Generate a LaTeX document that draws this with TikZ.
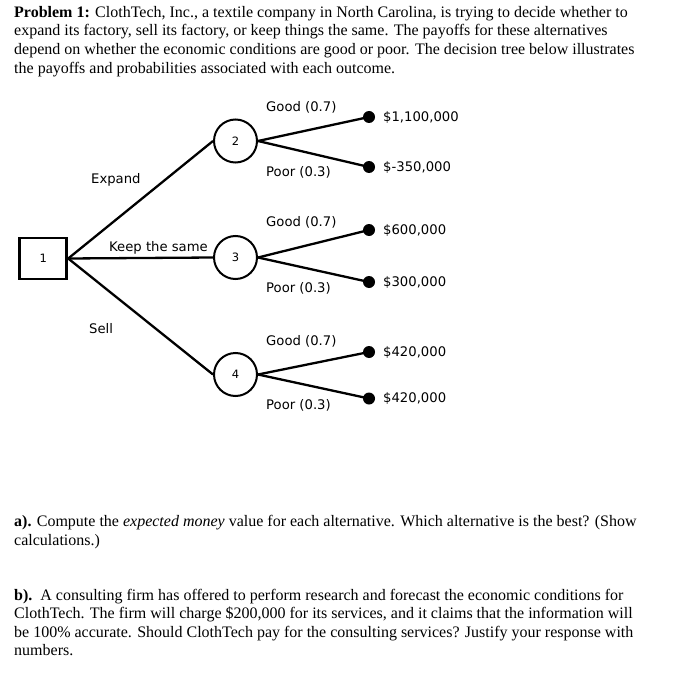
\documentclass[tikz,border=0pt]{standalone}
\usepackage{fontspec}
\setmainfont{Liberation Serif}
\newfontfamily\treefont{DejaVu Sans}
\begin{document}
\begin{tikzpicture}[x=1pt,y=-1pt,
  txt/.style={anchor=base west,inner sep=0pt,font=\fontsize{16}{18}\selectfont},
  lbl/.style={inner sep=0pt,font=\treefont\fontsize{13.2}{15}\selectfont},
  dec/.style={draw,line width=2.8pt,minimum width=47pt,minimum height=41pt,inner sep=0pt,font=\treefont\fontsize{11.5}{12}\selectfont},
  chance/.style={draw,circle,line width=2pt,minimum size=43pt,inner sep=0pt,font=\treefont\fontsize{11.5}{12}\selectfont},
  leaf/.style={circle,fill=black,minimum size=12pt,inner sep=0pt},
  br/.style={line width=2.3pt}]
\useasboundingbox[fill=white] (0,0) rectangle (672,695);

% header text
\node[txt] (t1) at (14,17.5) {\textbf{Problem 1:} ClothTech, Inc., a textile company in North Carolina, is trying to decide whether to};
\node[txt] (t2) at (14,36) {expand its factory, sell its factory, or keep things the same. The payoffs for these alternatives};
\node[txt] (t3) at (14,55) {depend on whether the economic conditions are good or poor. The decision tree below illustrates};
\node[txt] (t4) at (14,73.5) {the payoffs and probabilities associated with each outcome.};

% tree nodes
\node[dec] (n1) at (43.3,258.5) {1};
\node[chance] (n2) at (235.5,141) {2};
\node[chance] (n3) at (235.5,257.5) {3};
\node[chance] (n4) at (235.5,374.5) {4};

\node[leaf] (l1) at (369,117) {};
\node[leaf] (l2) at (369,167) {};
\node[leaf] (l3) at (369,230) {};
\node[leaf] (l4) at (369,282) {};
\node[leaf] (l5) at (369,352) {};
\node[leaf] (l6) at (369,398.5) {};

\draw[br] (n1.east) -- (n2.west);
\draw[br] (n1.east) -- (n3.west);
\draw[br] (n1.east) -- (n4.west);
\draw[br] (n2.east) -- (l1.center);
\draw[br] (n2.east) -- (l2.center);
\draw[br] (n3.east) -- (l3.center);
\draw[br] (n3.east) -- (l4.center);
\draw[br] (n4.east) -- (l5.center);
\draw[br] (n4.east) -- (l6.center);

% labels
\node[lbl,anchor=west] (e1) at (91,180) {Expand};
\node[lbl,anchor=west] (e2) at (109,248) {Keep the same};
\node[lbl,anchor=west] (e3) at (89,329) {Sell};

\node[lbl,anchor=west] (g1) at (266,107) {Good (0.7)};
\node[lbl,anchor=west] (p1) at (266,172) {Poor (0.3)};
\node[lbl,anchor=west] (g2) at (266,222) {Good (0.7)};
\node[lbl,anchor=west] (p2) at (266,288) {Poor (0.3)};
\node[lbl,anchor=west] (g3) at (266,341) {Good (0.7)};
\node[lbl,anchor=west] (p3) at (266,405) {Poor (0.3)};

\node[lbl,anchor=west] (v1) at (383,117) {\$1,100,000};
\node[lbl,anchor=west] (v2) at (383,167) {\$-350,000};
\node[lbl,anchor=west] (v3) at (383,230) {\$600,000};
\node[lbl,anchor=west] (v4) at (383,282) {\$300,000};
\node[lbl,anchor=west] (v5) at (383,352) {\$420,000};
\node[lbl,anchor=west] (v6) at (383,398.5) {\$420,000};

% questions
\node[txt] (a1) at (14,526.5) {\textbf{a).} Compute the \textit{expected money} value for each alternative. Which alternative is the best? (Show};
\node[txt] (a2) at (14,545) {calculations.)};
\node[txt] (b1) at (14,600) {\textbf{b).}\ \ A consulting firm has offered to perform research and forecast the economic conditions for};
\node[txt] (b2) at (14,618.5) {ClothTech. The firm will charge \$200,000 for its services, and it claims that the information will};
\node[txt] (b3) at (14,637) {be 100\% accurate. Should ClothTech pay for the consulting services? Justify your response with};
\node[txt] (b4) at (14,655) {numbers.};
\end{tikzpicture}
\end{document}
